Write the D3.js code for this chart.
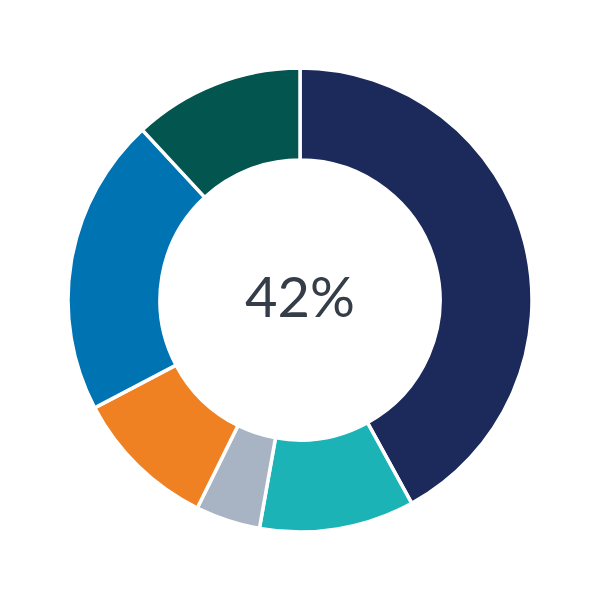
<!DOCTYPE html>
<html><head><meta charset="utf-8">
<script src="https://cdn.jsdelivr.net/npm/d3@7"></script>
<style>body{margin:0;background:#fff;}</style>
</head><body>
<svg id="c" width="600" height="600"></svg>
<script>
const categories = ["A","B","C","D","E","F"];
const values = [42, 10.8, 4.5, 10, 20.8, 11.9];
const colors = ["#1b2a5b","#1bb3b6","#a8b4c3","#f08122","#0074b3","#03554f"];
const centerLabel = "42%";

const svg = d3.select("#c");
const g = svg.append("g").attr("transform","translate(300,300)");
const pie = d3.pie().sort(null).value(d=>d.v);
const arc = d3.arc().innerRadius(140).outerRadius(232);
const data = categories.map((c,i)=>({c, v: values[i], col: colors[i]}));
g.selectAll("path").data(pie(data)).join("path")
  .attr("d", arc)
  .attr("fill", d=>d.data.col)
  .attr("stroke", "#fff")
  .attr("stroke-width", 3.5);
g.append("text").attr("text-anchor","middle").attr("y",17)
  .attr("font-family","Lato, sans-serif").attr("font-size",56)
  .attr("fill","#343d48").text(centerLabel);
</script>
</body></html>
